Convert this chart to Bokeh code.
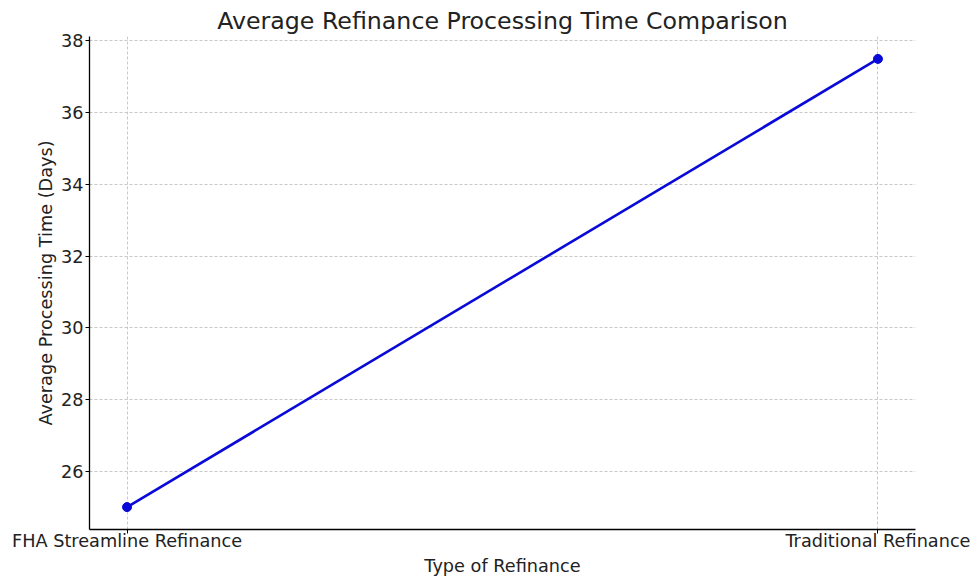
from bokeh.plotting import figure
from bokeh.models import Range1d, FixedTicker
from bokeh.embed import file_html
from bokeh.resources import INLINE

categories = ["FHA Streamline Refinance", "Traditional Refinance"]
avg_days = [25.0, 37.5]
y_ticks = [26, 28, 30, 32, 34, 36, 38]

xs = list(range(len(categories)))

FONT = "DejaVu Sans"

p = figure(width=980, height=586, output_backend="svg", toolbar_location=None,
           x_range=Range1d(-0.05, 1.05), y_range=Range1d(24.375, 38.125),
           title="Average Refinance Processing Time Comparison",
           min_border_left=89, min_border_right=65, min_border_bottom=57, min_border_top=36)

p.title.text_font = FONT
p.title.text_font_size = "23.7px"
p.title.text_font_style = "normal"
p.title.align = "center"
p.title.text_color = "#222222"
p.title.standoff = 3

p.outline_line_color = None
p.background_fill_color = "white"
p.border_fill_color = "white"

p.line(xs, avg_days, line_color="#0a0ad8", line_width=2.6)
p.scatter(xs, avg_days, size=9, fill_color="#0a0ad8", line_color="#0a0ad8")

p.xaxis.ticker = FixedTicker(ticks=xs)
p.xaxis.major_label_overrides = {i: c for i, c in enumerate(categories)}
p.yaxis.ticker = FixedTicker(ticks=y_ticks)

for ax in (p.xaxis, p.yaxis):
    ax.axis_line_color = "black"
    ax.axis_line_width = 1.3
    ax.major_tick_line_color = "black"
    ax.major_tick_in = 0
    ax.major_tick_out = 4
    ax.minor_tick_line_color = None
    ax.major_label_text_font = FONT
    ax.major_label_text_font_size = "17.7px"
    ax.major_label_text_color = "#222222"
    ax.axis_label_text_font = FONT
    ax.axis_label_text_font_size = "17.7px"
    ax.axis_label_text_font_style = "normal"
    ax.axis_label_text_color = "#222222"

p.xaxis.axis_label = "Type of Refinance"
p.yaxis.axis_label = "Average Processing Time (Days)"
p.xaxis.major_label_standoff = -3
p.xaxis.axis_label_standoff = 2
p.yaxis.major_label_standoff = 2
p.yaxis.axis_label_standoff = 2

for g in (p.xgrid, p.ygrid):
    g.grid_line_color = "#c8c8c8"
    g.grid_line_dash = "3 2"
    g.grid_line_width = 1

p.xgrid.ticker = FixedTicker(ticks=xs)
p.ygrid.ticker = FixedTicker(ticks=y_ticks)

open("out.html", "w").write(file_html(p, INLINE))
